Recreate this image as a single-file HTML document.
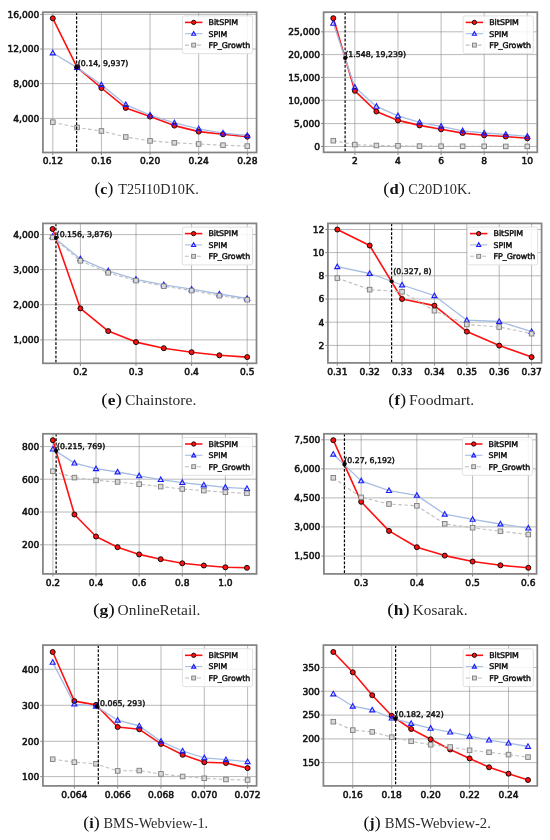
<!DOCTYPE html>
<html><head><meta charset="utf-8"><title>Figure</title>
<style>
html,body{margin:0;padding:0;background:#fff;}
body{width:550px;height:840px;overflow:hidden;}
svg{display:block;}
.tk{font-family:"DejaVu Sans","Liberation Sans",sans-serif;font-size:9.1px;fill:#111;stroke:#111;stroke-width:0.55px;}
.lg{font-family:"DejaVu Sans","Liberation Sans",sans-serif;font-size:7.9px;fill:#111;stroke:#111;stroke-width:0.45px;}
.ann{font-family:"DejaVu Sans","Liberation Sans",sans-serif;font-size:7.8px;fill:#111;stroke:#111;stroke-width:0.45px;}
.cap{font-family:"Liberation Serif",serif;font-size:14.6px;fill:#2b2b2b;}
.cb{fill:#111;}
.cb{font-weight:bold;}
.pp{font-weight:normal;font-size:17.4px;}
.lt{font-size:15.6px;}
</style></head>
<body>
<svg width="550" height="840" viewBox="0 0 550 840">
<rect width="550" height="840" fill="#fff"/>
<line x1="52.8" y1="12.2" x2="52.8" y2="152.5" stroke="#8a8a8a" stroke-opacity="0.6" stroke-width="1.0"/>
<line x1="101.42" y1="12.2" x2="101.42" y2="152.5" stroke="#8a8a8a" stroke-opacity="0.6" stroke-width="1.0"/>
<line x1="150.05" y1="12.2" x2="150.05" y2="152.5" stroke="#8a8a8a" stroke-opacity="0.6" stroke-width="1.0"/>
<line x1="198.67" y1="12.2" x2="198.67" y2="152.5" stroke="#8a8a8a" stroke-opacity="0.6" stroke-width="1.0"/>
<line x1="247.3" y1="12.2" x2="247.3" y2="152.5" stroke="#8a8a8a" stroke-opacity="0.6" stroke-width="1.0"/>
<line x1="42.9" y1="14.4" x2="256.6" y2="14.4" stroke="#8a8a8a" stroke-opacity="0.6" stroke-width="1.0"/>
<line x1="42.9" y1="49" x2="256.6" y2="49" stroke="#8a8a8a" stroke-opacity="0.6" stroke-width="1.0"/>
<line x1="42.9" y1="83.6" x2="256.6" y2="83.6" stroke="#8a8a8a" stroke-opacity="0.6" stroke-width="1.0"/>
<line x1="42.9" y1="118.4" x2="256.6" y2="118.4" stroke="#8a8a8a" stroke-opacity="0.6" stroke-width="1.0"/>
<polyline points="52.8,18.3 77.11,67.3 101.42,88 125.74,107.9 150.05,116.6 174.36,125.6 198.67,131.6 222.99,134.3 247.3,136.7" fill="none" stroke="#ff1010" stroke-width="1.6" stroke-linejoin="round"/>
<polyline points="52.8,53 77.11,67.6 101.42,84.7 125.74,104.6 150.05,115.1 174.36,122.9 198.67,128.9 222.99,133.1 247.3,135.5" fill="none" stroke="#a6bde2" stroke-width="1.3" stroke-linejoin="round"/>
<polyline points="52.8,122.2 77.11,127.5 101.42,131 125.74,137 150.05,140.9 174.36,142.8 198.67,144 222.99,145.2 247.3,146.1" fill="none" stroke="#bfbfbf" stroke-width="1.1" stroke-dasharray="3.6 2.4"/>
<circle cx="52.8" cy="18.3" r="2.5" fill="#ff1010" stroke="#000" stroke-width="0.9"/>
<circle cx="77.11" cy="67.3" r="2.5" fill="#ff1010" stroke="#000" stroke-width="0.9"/>
<circle cx="101.42" cy="88" r="2.5" fill="#ff1010" stroke="#000" stroke-width="0.9"/>
<circle cx="125.74" cy="107.9" r="2.5" fill="#ff1010" stroke="#000" stroke-width="0.9"/>
<circle cx="150.05" cy="116.6" r="2.5" fill="#ff1010" stroke="#000" stroke-width="0.9"/>
<circle cx="174.36" cy="125.6" r="2.5" fill="#ff1010" stroke="#000" stroke-width="0.9"/>
<circle cx="198.67" cy="131.6" r="2.5" fill="#ff1010" stroke="#000" stroke-width="0.9"/>
<circle cx="222.99" cy="134.3" r="2.5" fill="#ff1010" stroke="#000" stroke-width="0.9"/>
<circle cx="247.3" cy="136.7" r="2.5" fill="#ff1010" stroke="#000" stroke-width="0.9"/>
<polygon points="52.8,50.32 50.25,54.91 55.35,54.91" fill="none" stroke="#1a1aff" stroke-width="1.1" stroke-linejoin="miter"/>
<polygon points="77.11,64.92 74.56,69.51 79.66,69.51" fill="none" stroke="#1a1aff" stroke-width="1.1" stroke-linejoin="miter"/>
<polygon points="101.42,82.02 98.88,86.61 103.97,86.61" fill="none" stroke="#1a1aff" stroke-width="1.1" stroke-linejoin="miter"/>
<polygon points="125.74,101.92 123.19,106.51 128.29,106.51" fill="none" stroke="#1a1aff" stroke-width="1.1" stroke-linejoin="miter"/>
<polygon points="150.05,112.42 147.5,117.01 152.6,117.01" fill="none" stroke="#1a1aff" stroke-width="1.1" stroke-linejoin="miter"/>
<polygon points="174.36,120.22 171.81,124.81 176.91,124.81" fill="none" stroke="#1a1aff" stroke-width="1.1" stroke-linejoin="miter"/>
<polygon points="198.67,126.22 196.12,130.81 201.22,130.81" fill="none" stroke="#1a1aff" stroke-width="1.1" stroke-linejoin="miter"/>
<polygon points="222.99,130.42 220.44,135.01 225.54,135.01" fill="none" stroke="#1a1aff" stroke-width="1.1" stroke-linejoin="miter"/>
<polygon points="247.3,132.82 244.75,137.41 249.85,137.41" fill="none" stroke="#1a1aff" stroke-width="1.1" stroke-linejoin="miter"/>
<rect x="50.5" y="119.9" width="4.6" height="4.6" fill="#d9d9d9" stroke="#7c7c7c" stroke-width="0.9"/>
<rect x="74.81" y="125.2" width="4.6" height="4.6" fill="#d9d9d9" stroke="#7c7c7c" stroke-width="0.9"/>
<rect x="99.12" y="128.7" width="4.6" height="4.6" fill="#d9d9d9" stroke="#7c7c7c" stroke-width="0.9"/>
<rect x="123.44" y="134.7" width="4.6" height="4.6" fill="#d9d9d9" stroke="#7c7c7c" stroke-width="0.9"/>
<rect x="147.75" y="138.6" width="4.6" height="4.6" fill="#d9d9d9" stroke="#7c7c7c" stroke-width="0.9"/>
<rect x="172.06" y="140.5" width="4.6" height="4.6" fill="#d9d9d9" stroke="#7c7c7c" stroke-width="0.9"/>
<rect x="196.37" y="141.7" width="4.6" height="4.6" fill="#d9d9d9" stroke="#7c7c7c" stroke-width="0.9"/>
<rect x="220.69" y="142.9" width="4.6" height="4.6" fill="#d9d9d9" stroke="#7c7c7c" stroke-width="0.9"/>
<rect x="245" y="143.8" width="4.6" height="4.6" fill="#d9d9d9" stroke="#7c7c7c" stroke-width="0.9"/>
<line x1="76.6" y1="12.2" x2="76.6" y2="152.5" stroke="#000" stroke-width="1.2" stroke-dasharray="2.8 1.6"/>
<circle cx="76.6" cy="67.3" r="2.05" fill="#000"/>
<text x="77.7" y="65.5" class="ann">(0.14, 9,937)</text>
<rect x="42.9" y="12.2" width="213.7" height="140.3" fill="none" stroke="#848484" stroke-width="1.75"/>
<line x1="52.8" y1="152.5" x2="52.8" y2="155.1" stroke="#848484" stroke-width="1"/>
<text x="52.8" y="164.43" class="tk" text-anchor="middle">0.12</text>
<line x1="101.42" y1="152.5" x2="101.42" y2="155.1" stroke="#848484" stroke-width="1"/>
<text x="101.42" y="164.43" class="tk" text-anchor="middle">0.16</text>
<line x1="150.05" y1="152.5" x2="150.05" y2="155.1" stroke="#848484" stroke-width="1"/>
<text x="150.05" y="164.43" class="tk" text-anchor="middle">0.20</text>
<line x1="198.67" y1="152.5" x2="198.67" y2="155.1" stroke="#848484" stroke-width="1"/>
<text x="198.67" y="164.43" class="tk" text-anchor="middle">0.24</text>
<line x1="247.3" y1="152.5" x2="247.3" y2="155.1" stroke="#848484" stroke-width="1"/>
<text x="247.3" y="164.43" class="tk" text-anchor="middle">0.28</text>
<line x1="40.3" y1="14.4" x2="42.9" y2="14.4" stroke="#848484" stroke-width="1"/>
<text x="39.3" y="17.72" class="tk" text-anchor="end">16,000</text>
<line x1="40.3" y1="49" x2="42.9" y2="49" stroke="#848484" stroke-width="1"/>
<text x="39.3" y="52.32" class="tk" text-anchor="end">12,000</text>
<line x1="40.3" y1="83.6" x2="42.9" y2="83.6" stroke="#848484" stroke-width="1"/>
<text x="39.3" y="86.92" class="tk" text-anchor="end">8,000</text>
<line x1="40.3" y1="118.4" x2="42.9" y2="118.4" stroke="#848484" stroke-width="1"/>
<text x="39.3" y="121.72" class="tk" text-anchor="end">4,000</text>
<rect x="182.4" y="15.9" width="70.2" height="37.8" rx="2" fill="#fff" fill-opacity="0.85" stroke="#dcdcdc" stroke-width="0.9"/>
<line x1="185" y1="22.4" x2="202.4" y2="22.4" stroke="#ff1010" stroke-width="1.6"/>
<circle cx="193.7" cy="22.4" r="2.15" fill="#ff1010" stroke="#000" stroke-width="0.9"/>
<line x1="185" y1="33.7" x2="202.4" y2="33.7" stroke="#a6bde2" stroke-width="1.1"/>
<polygon points="193.7,31.55 191.65,35.24 195.75,35.24" fill="none" stroke="#1a1aff" stroke-width="1.1" stroke-linejoin="miter"/>
<line x1="185" y1="45.1" x2="202.4" y2="45.1" stroke="#bfbfbf" stroke-width="1.1" stroke-dasharray="4 2"/>
<rect x="191.75" y="43.15" width="3.9" height="3.9" fill="#d9d9d9" stroke="#7c7c7c" stroke-width="0.9"/>
<text x="208.5" y="25.28" class="lg">BitSPIM</text>
<text x="208.5" y="36.58" class="lg">SPIM</text>
<text x="208.5" y="47.98" class="lg">FP_Growth</text>
<text x="94.5" y="193.6" class="cap cb" textLength="18.8" lengthAdjust="spacingAndGlyphs"><tspan class="pp">(</tspan><tspan class="lt">c</tspan><tspan class="pp">)</tspan></text><text x="118.2" y="193.6" class="cap" textLength="80.6" lengthAdjust="spacingAndGlyphs">T25I10D10K.</text>
<line x1="354.86" y1="12.2" x2="354.86" y2="152.3" stroke="#8a8a8a" stroke-opacity="0.6" stroke-width="1.0"/>
<line x1="397.97" y1="12.2" x2="397.97" y2="152.3" stroke="#8a8a8a" stroke-opacity="0.6" stroke-width="1.0"/>
<line x1="441.08" y1="12.2" x2="441.08" y2="152.3" stroke="#8a8a8a" stroke-opacity="0.6" stroke-width="1.0"/>
<line x1="484.19" y1="12.2" x2="484.19" y2="152.3" stroke="#8a8a8a" stroke-opacity="0.6" stroke-width="1.0"/>
<line x1="527.3" y1="12.2" x2="527.3" y2="152.3" stroke="#8a8a8a" stroke-opacity="0.6" stroke-width="1.0"/>
<line x1="323.6" y1="31.8" x2="537.3" y2="31.8" stroke="#8a8a8a" stroke-opacity="0.6" stroke-width="1.0"/>
<line x1="323.6" y1="54.6" x2="537.3" y2="54.6" stroke="#8a8a8a" stroke-opacity="0.6" stroke-width="1.0"/>
<line x1="323.6" y1="77.4" x2="537.3" y2="77.4" stroke="#8a8a8a" stroke-opacity="0.6" stroke-width="1.0"/>
<line x1="323.6" y1="100.3" x2="537.3" y2="100.3" stroke="#8a8a8a" stroke-opacity="0.6" stroke-width="1.0"/>
<line x1="323.6" y1="123.6" x2="537.3" y2="123.6" stroke="#8a8a8a" stroke-opacity="0.6" stroke-width="1.0"/>
<line x1="323.6" y1="146.5" x2="537.3" y2="146.5" stroke="#8a8a8a" stroke-opacity="0.6" stroke-width="1.0"/>
<polyline points="333.3,18.2 354.86,90.8 376.41,111.5 397.97,120.4 419.52,125.4 441.08,129.3 462.63,133.1 484.19,135.3 505.74,136.5 527.3,138.3" fill="none" stroke="#ff1010" stroke-width="1.6" stroke-linejoin="round"/>
<polyline points="333.3,23.3 354.86,87.3 376.41,106.4 397.97,115.8 419.52,122.4 441.08,126.4 462.63,130.8 484.19,133 505.74,134.4 527.3,136.4" fill="none" stroke="#a6bde2" stroke-width="1.3" stroke-linejoin="round"/>
<polyline points="333.3,140.7 354.86,144.6 376.41,145.5 397.97,145.8 419.52,146.1 441.08,146.2 462.63,146.3 484.19,146.3 505.74,146.4 527.3,146.4" fill="none" stroke="#bfbfbf" stroke-width="1.1" stroke-dasharray="3.6 2.4"/>
<circle cx="333.3" cy="18.2" r="2.5" fill="#ff1010" stroke="#000" stroke-width="0.9"/>
<circle cx="354.86" cy="90.8" r="2.5" fill="#ff1010" stroke="#000" stroke-width="0.9"/>
<circle cx="376.41" cy="111.5" r="2.5" fill="#ff1010" stroke="#000" stroke-width="0.9"/>
<circle cx="397.97" cy="120.4" r="2.5" fill="#ff1010" stroke="#000" stroke-width="0.9"/>
<circle cx="419.52" cy="125.4" r="2.5" fill="#ff1010" stroke="#000" stroke-width="0.9"/>
<circle cx="441.08" cy="129.3" r="2.5" fill="#ff1010" stroke="#000" stroke-width="0.9"/>
<circle cx="462.63" cy="133.1" r="2.5" fill="#ff1010" stroke="#000" stroke-width="0.9"/>
<circle cx="484.19" cy="135.3" r="2.5" fill="#ff1010" stroke="#000" stroke-width="0.9"/>
<circle cx="505.74" cy="136.5" r="2.5" fill="#ff1010" stroke="#000" stroke-width="0.9"/>
<circle cx="527.3" cy="138.3" r="2.5" fill="#ff1010" stroke="#000" stroke-width="0.9"/>
<polygon points="333.3,20.62 330.75,25.21 335.85,25.21" fill="none" stroke="#1a1aff" stroke-width="1.1" stroke-linejoin="miter"/>
<polygon points="354.86,84.62 352.31,89.21 357.41,89.21" fill="none" stroke="#1a1aff" stroke-width="1.1" stroke-linejoin="miter"/>
<polygon points="376.41,103.72 373.86,108.31 378.96,108.31" fill="none" stroke="#1a1aff" stroke-width="1.1" stroke-linejoin="miter"/>
<polygon points="397.97,113.12 395.42,117.71 400.52,117.71" fill="none" stroke="#1a1aff" stroke-width="1.1" stroke-linejoin="miter"/>
<polygon points="419.52,119.72 416.97,124.31 422.07,124.31" fill="none" stroke="#1a1aff" stroke-width="1.1" stroke-linejoin="miter"/>
<polygon points="441.08,123.72 438.53,128.31 443.63,128.31" fill="none" stroke="#1a1aff" stroke-width="1.1" stroke-linejoin="miter"/>
<polygon points="462.63,128.12 460.08,132.71 465.18,132.71" fill="none" stroke="#1a1aff" stroke-width="1.1" stroke-linejoin="miter"/>
<polygon points="484.19,130.32 481.64,134.91 486.74,134.91" fill="none" stroke="#1a1aff" stroke-width="1.1" stroke-linejoin="miter"/>
<polygon points="505.74,131.72 503.19,136.31 508.29,136.31" fill="none" stroke="#1a1aff" stroke-width="1.1" stroke-linejoin="miter"/>
<polygon points="527.3,133.72 524.75,138.31 529.85,138.31" fill="none" stroke="#1a1aff" stroke-width="1.1" stroke-linejoin="miter"/>
<rect x="331" y="138.4" width="4.6" height="4.6" fill="#d9d9d9" stroke="#7c7c7c" stroke-width="0.9"/>
<rect x="352.56" y="142.3" width="4.6" height="4.6" fill="#d9d9d9" stroke="#7c7c7c" stroke-width="0.9"/>
<rect x="374.11" y="143.2" width="4.6" height="4.6" fill="#d9d9d9" stroke="#7c7c7c" stroke-width="0.9"/>
<rect x="395.67" y="143.5" width="4.6" height="4.6" fill="#d9d9d9" stroke="#7c7c7c" stroke-width="0.9"/>
<rect x="417.22" y="143.8" width="4.6" height="4.6" fill="#d9d9d9" stroke="#7c7c7c" stroke-width="0.9"/>
<rect x="438.78" y="143.9" width="4.6" height="4.6" fill="#d9d9d9" stroke="#7c7c7c" stroke-width="0.9"/>
<rect x="460.33" y="144" width="4.6" height="4.6" fill="#d9d9d9" stroke="#7c7c7c" stroke-width="0.9"/>
<rect x="481.89" y="144" width="4.6" height="4.6" fill="#d9d9d9" stroke="#7c7c7c" stroke-width="0.9"/>
<rect x="503.44" y="144.1" width="4.6" height="4.6" fill="#d9d9d9" stroke="#7c7c7c" stroke-width="0.9"/>
<rect x="525" y="144.1" width="4.6" height="4.6" fill="#d9d9d9" stroke="#7c7c7c" stroke-width="0.9"/>
<line x1="345.11" y1="12.2" x2="345.11" y2="152.3" stroke="#000" stroke-width="1.2" stroke-dasharray="2.8 1.6"/>
<circle cx="345.11" cy="58" r="2.05" fill="#000"/>
<text x="345.3" y="56.9" class="ann">(1.548, 19,239)</text>
<rect x="323.6" y="12.2" width="213.7" height="140.1" fill="none" stroke="#848484" stroke-width="1.75"/>
<line x1="354.86" y1="152.3" x2="354.86" y2="154.9" stroke="#848484" stroke-width="1"/>
<text x="354.86" y="164.23" class="tk" text-anchor="middle">2</text>
<line x1="397.97" y1="152.3" x2="397.97" y2="154.9" stroke="#848484" stroke-width="1"/>
<text x="397.97" y="164.23" class="tk" text-anchor="middle">4</text>
<line x1="441.08" y1="152.3" x2="441.08" y2="154.9" stroke="#848484" stroke-width="1"/>
<text x="441.08" y="164.23" class="tk" text-anchor="middle">6</text>
<line x1="484.19" y1="152.3" x2="484.19" y2="154.9" stroke="#848484" stroke-width="1"/>
<text x="484.19" y="164.23" class="tk" text-anchor="middle">8</text>
<line x1="527.3" y1="152.3" x2="527.3" y2="154.9" stroke="#848484" stroke-width="1"/>
<text x="527.3" y="164.23" class="tk" text-anchor="middle">10</text>
<line x1="321" y1="31.8" x2="323.6" y2="31.8" stroke="#848484" stroke-width="1"/>
<text x="320" y="35.12" class="tk" text-anchor="end">25,000</text>
<line x1="321" y1="54.6" x2="323.6" y2="54.6" stroke="#848484" stroke-width="1"/>
<text x="320" y="57.92" class="tk" text-anchor="end">20,000</text>
<line x1="321" y1="77.4" x2="323.6" y2="77.4" stroke="#848484" stroke-width="1"/>
<text x="320" y="80.72" class="tk" text-anchor="end">15,000</text>
<line x1="321" y1="100.3" x2="323.6" y2="100.3" stroke="#848484" stroke-width="1"/>
<text x="320" y="103.62" class="tk" text-anchor="end">10,000</text>
<line x1="321" y1="123.6" x2="323.6" y2="123.6" stroke="#848484" stroke-width="1"/>
<text x="320" y="126.92" class="tk" text-anchor="end">5,000</text>
<line x1="321" y1="146.5" x2="323.6" y2="146.5" stroke="#848484" stroke-width="1"/>
<text x="320" y="149.82" class="tk" text-anchor="end">0</text>
<rect x="463.1" y="15.9" width="70.2" height="37.8" rx="2" fill="#fff" fill-opacity="0.85" stroke="#dcdcdc" stroke-width="0.9"/>
<line x1="465.7" y1="22.4" x2="483.1" y2="22.4" stroke="#ff1010" stroke-width="1.6"/>
<circle cx="474.4" cy="22.4" r="2.15" fill="#ff1010" stroke="#000" stroke-width="0.9"/>
<line x1="465.7" y1="33.7" x2="483.1" y2="33.7" stroke="#a6bde2" stroke-width="1.1"/>
<polygon points="474.4,31.55 472.35,35.24 476.45,35.24" fill="none" stroke="#1a1aff" stroke-width="1.1" stroke-linejoin="miter"/>
<line x1="465.7" y1="45.1" x2="483.1" y2="45.1" stroke="#bfbfbf" stroke-width="1.1" stroke-dasharray="4 2"/>
<rect x="472.45" y="43.15" width="3.9" height="3.9" fill="#d9d9d9" stroke="#7c7c7c" stroke-width="0.9"/>
<text x="489.2" y="25.28" class="lg">BitSPIM</text>
<text x="489.2" y="36.58" class="lg">SPIM</text>
<text x="489.2" y="47.98" class="lg">FP_Growth</text>
<text x="383.3" y="193.6" class="cap cb" textLength="21.5" lengthAdjust="spacingAndGlyphs"><tspan class="pp">(</tspan><tspan class="lt">d</tspan><tspan class="pp">)</tspan></text><text x="408.3" y="193.6" class="cap" textLength="62.7" lengthAdjust="spacingAndGlyphs">C20D10K.</text>
<line x1="80.4" y1="223.4" x2="80.4" y2="363.3" stroke="#8a8a8a" stroke-opacity="0.6" stroke-width="1.0"/>
<line x1="136" y1="223.4" x2="136" y2="363.3" stroke="#8a8a8a" stroke-opacity="0.6" stroke-width="1.0"/>
<line x1="191.6" y1="223.4" x2="191.6" y2="363.3" stroke="#8a8a8a" stroke-opacity="0.6" stroke-width="1.0"/>
<line x1="247.2" y1="223.4" x2="247.2" y2="363.3" stroke="#8a8a8a" stroke-opacity="0.6" stroke-width="1.0"/>
<line x1="42.9" y1="234.6" x2="256.5" y2="234.6" stroke="#8a8a8a" stroke-opacity="0.6" stroke-width="1.0"/>
<line x1="42.9" y1="269.6" x2="256.5" y2="269.6" stroke="#8a8a8a" stroke-opacity="0.6" stroke-width="1.0"/>
<line x1="42.9" y1="304.7" x2="256.5" y2="304.7" stroke="#8a8a8a" stroke-opacity="0.6" stroke-width="1.0"/>
<line x1="42.9" y1="339.9" x2="256.5" y2="339.9" stroke="#8a8a8a" stroke-opacity="0.6" stroke-width="1.0"/>
<polyline points="52.6,229 80.4,308.4 108.2,331.1 136,342.1 163.8,348.2 191.6,352.2 219.4,355.3 247.2,357.1" fill="none" stroke="#ff1010" stroke-width="1.6" stroke-linejoin="round"/>
<polyline points="52.6,236.5 80.4,258.9 108.2,270.9 136,279.3 163.8,284.8 191.6,289.2 219.4,294 247.2,298.5" fill="none" stroke="#a6bde2" stroke-width="1.3" stroke-linejoin="round"/>
<polyline points="52.6,237.4 80.4,260.8 108.2,272.8 136,280.6 163.8,286.2 191.6,290.6 219.4,295.7 247.2,299.7" fill="none" stroke="#bfbfbf" stroke-width="1.1" stroke-dasharray="3.6 2.4"/>
<circle cx="52.6" cy="229" r="2.5" fill="#ff1010" stroke="#000" stroke-width="0.9"/>
<circle cx="80.4" cy="308.4" r="2.5" fill="#ff1010" stroke="#000" stroke-width="0.9"/>
<circle cx="108.2" cy="331.1" r="2.5" fill="#ff1010" stroke="#000" stroke-width="0.9"/>
<circle cx="136" cy="342.1" r="2.5" fill="#ff1010" stroke="#000" stroke-width="0.9"/>
<circle cx="163.8" cy="348.2" r="2.5" fill="#ff1010" stroke="#000" stroke-width="0.9"/>
<circle cx="191.6" cy="352.2" r="2.5" fill="#ff1010" stroke="#000" stroke-width="0.9"/>
<circle cx="219.4" cy="355.3" r="2.5" fill="#ff1010" stroke="#000" stroke-width="0.9"/>
<circle cx="247.2" cy="357.1" r="2.5" fill="#ff1010" stroke="#000" stroke-width="0.9"/>
<polygon points="52.6,233.82 50.05,238.41 55.15,238.41" fill="none" stroke="#1a1aff" stroke-width="1.1" stroke-linejoin="miter"/>
<polygon points="80.4,256.22 77.85,260.81 82.95,260.81" fill="none" stroke="#1a1aff" stroke-width="1.1" stroke-linejoin="miter"/>
<polygon points="108.2,268.22 105.65,272.81 110.75,272.81" fill="none" stroke="#1a1aff" stroke-width="1.1" stroke-linejoin="miter"/>
<polygon points="136,276.62 133.45,281.21 138.55,281.21" fill="none" stroke="#1a1aff" stroke-width="1.1" stroke-linejoin="miter"/>
<polygon points="163.8,282.12 161.25,286.71 166.35,286.71" fill="none" stroke="#1a1aff" stroke-width="1.1" stroke-linejoin="miter"/>
<polygon points="191.6,286.52 189.05,291.11 194.15,291.11" fill="none" stroke="#1a1aff" stroke-width="1.1" stroke-linejoin="miter"/>
<polygon points="219.4,291.32 216.85,295.91 221.95,295.91" fill="none" stroke="#1a1aff" stroke-width="1.1" stroke-linejoin="miter"/>
<polygon points="247.2,295.82 244.65,300.41 249.75,300.41" fill="none" stroke="#1a1aff" stroke-width="1.1" stroke-linejoin="miter"/>
<rect x="50.3" y="235.1" width="4.6" height="4.6" fill="#d9d9d9" stroke="#7c7c7c" stroke-width="0.9"/>
<rect x="78.1" y="258.5" width="4.6" height="4.6" fill="#d9d9d9" stroke="#7c7c7c" stroke-width="0.9"/>
<rect x="105.9" y="270.5" width="4.6" height="4.6" fill="#d9d9d9" stroke="#7c7c7c" stroke-width="0.9"/>
<rect x="133.7" y="278.3" width="4.6" height="4.6" fill="#d9d9d9" stroke="#7c7c7c" stroke-width="0.9"/>
<rect x="161.5" y="283.9" width="4.6" height="4.6" fill="#d9d9d9" stroke="#7c7c7c" stroke-width="0.9"/>
<rect x="189.3" y="288.3" width="4.6" height="4.6" fill="#d9d9d9" stroke="#7c7c7c" stroke-width="0.9"/>
<rect x="217.1" y="293.4" width="4.6" height="4.6" fill="#d9d9d9" stroke="#7c7c7c" stroke-width="0.9"/>
<rect x="244.9" y="297.4" width="4.6" height="4.6" fill="#d9d9d9" stroke="#7c7c7c" stroke-width="0.9"/>
<line x1="55.94" y1="223.4" x2="55.94" y2="363.3" stroke="#000" stroke-width="1.2" stroke-dasharray="2.8 1.6"/>
<circle cx="55.94" cy="237.9" r="2.05" fill="#000"/>
<text x="56.6" y="237" class="ann">(0.156, 3,876)</text>
<rect x="42.9" y="223.4" width="213.6" height="139.9" fill="none" stroke="#848484" stroke-width="1.75"/>
<line x1="80.4" y1="363.3" x2="80.4" y2="365.9" stroke="#848484" stroke-width="1"/>
<text x="80.4" y="375.23" class="tk" text-anchor="middle">0.2</text>
<line x1="136" y1="363.3" x2="136" y2="365.9" stroke="#848484" stroke-width="1"/>
<text x="136" y="375.23" class="tk" text-anchor="middle">0.3</text>
<line x1="191.6" y1="363.3" x2="191.6" y2="365.9" stroke="#848484" stroke-width="1"/>
<text x="191.6" y="375.23" class="tk" text-anchor="middle">0.4</text>
<line x1="247.2" y1="363.3" x2="247.2" y2="365.9" stroke="#848484" stroke-width="1"/>
<text x="247.2" y="375.23" class="tk" text-anchor="middle">0.5</text>
<line x1="40.3" y1="234.6" x2="42.9" y2="234.6" stroke="#848484" stroke-width="1"/>
<text x="39.3" y="237.92" class="tk" text-anchor="end">4,000</text>
<line x1="40.3" y1="269.6" x2="42.9" y2="269.6" stroke="#848484" stroke-width="1"/>
<text x="39.3" y="272.92" class="tk" text-anchor="end">3,000</text>
<line x1="40.3" y1="304.7" x2="42.9" y2="304.7" stroke="#848484" stroke-width="1"/>
<text x="39.3" y="308.02" class="tk" text-anchor="end">2,000</text>
<line x1="40.3" y1="339.9" x2="42.9" y2="339.9" stroke="#848484" stroke-width="1"/>
<text x="39.3" y="343.22" class="tk" text-anchor="end">1,000</text>
<rect x="182.3" y="227.1" width="70.2" height="37.8" rx="2" fill="#fff" fill-opacity="0.85" stroke="#dcdcdc" stroke-width="0.9"/>
<line x1="184.9" y1="233.6" x2="202.3" y2="233.6" stroke="#ff1010" stroke-width="1.6"/>
<circle cx="193.6" cy="233.6" r="2.15" fill="#ff1010" stroke="#000" stroke-width="0.9"/>
<line x1="184.9" y1="244.9" x2="202.3" y2="244.9" stroke="#a6bde2" stroke-width="1.1"/>
<polygon points="193.6,242.75 191.55,246.44 195.65,246.44" fill="none" stroke="#1a1aff" stroke-width="1.1" stroke-linejoin="miter"/>
<line x1="184.9" y1="256.3" x2="202.3" y2="256.3" stroke="#bfbfbf" stroke-width="1.1" stroke-dasharray="4 2"/>
<rect x="191.65" y="254.35" width="3.9" height="3.9" fill="#d9d9d9" stroke="#7c7c7c" stroke-width="0.9"/>
<text x="208.4" y="236.48" class="lg">BitSPIM</text>
<text x="208.4" y="247.78" class="lg">SPIM</text>
<text x="208.4" y="259.18" class="lg">FP_Growth</text>
<text x="101.3" y="404.8" class="cap cb" textLength="20.6" lengthAdjust="spacingAndGlyphs"><tspan class="pp">(</tspan><tspan class="lt">e</tspan><tspan class="pp">)</tspan></text><text x="125.1" y="404.8" class="cap" textLength="71.2" lengthAdjust="spacingAndGlyphs">Chainstore.</text>
<line x1="337.3" y1="223.4" x2="337.3" y2="362.9" stroke="#8a8a8a" stroke-opacity="0.6" stroke-width="1.0"/>
<line x1="369.68" y1="223.4" x2="369.68" y2="362.9" stroke="#8a8a8a" stroke-opacity="0.6" stroke-width="1.0"/>
<line x1="402.07" y1="223.4" x2="402.07" y2="362.9" stroke="#8a8a8a" stroke-opacity="0.6" stroke-width="1.0"/>
<line x1="434.45" y1="223.4" x2="434.45" y2="362.9" stroke="#8a8a8a" stroke-opacity="0.6" stroke-width="1.0"/>
<line x1="466.83" y1="223.4" x2="466.83" y2="362.9" stroke="#8a8a8a" stroke-opacity="0.6" stroke-width="1.0"/>
<line x1="499.22" y1="223.4" x2="499.22" y2="362.9" stroke="#8a8a8a" stroke-opacity="0.6" stroke-width="1.0"/>
<line x1="531.6" y1="223.4" x2="531.6" y2="362.9" stroke="#8a8a8a" stroke-opacity="0.6" stroke-width="1.0"/>
<line x1="327.9" y1="229.5" x2="541.6" y2="229.5" stroke="#8a8a8a" stroke-opacity="0.6" stroke-width="1.0"/>
<line x1="327.9" y1="252.6" x2="541.6" y2="252.6" stroke="#8a8a8a" stroke-opacity="0.6" stroke-width="1.0"/>
<line x1="327.9" y1="275.8" x2="541.6" y2="275.8" stroke="#8a8a8a" stroke-opacity="0.6" stroke-width="1.0"/>
<line x1="327.9" y1="299" x2="541.6" y2="299" stroke="#8a8a8a" stroke-opacity="0.6" stroke-width="1.0"/>
<line x1="327.9" y1="322.2" x2="541.6" y2="322.2" stroke="#8a8a8a" stroke-opacity="0.6" stroke-width="1.0"/>
<line x1="327.9" y1="345.4" x2="541.6" y2="345.4" stroke="#8a8a8a" stroke-opacity="0.6" stroke-width="1.0"/>
<polyline points="337.3,229.5 369.68,245.5 402.07,299 434.45,305.6 466.83,331.6 499.22,345.6 531.6,357.1" fill="none" stroke="#ff1010" stroke-width="1.6" stroke-linejoin="round"/>
<polyline points="337.3,266.7 369.68,273.5 402.07,285 434.45,295.7 466.83,320.2 499.22,321.5 531.6,331.6" fill="none" stroke="#a6bde2" stroke-width="1.3" stroke-linejoin="round"/>
<polyline points="337.3,278.1 369.68,289.6 402.07,291.8 434.45,310.7 466.83,324.5 499.22,327 531.6,333.7" fill="none" stroke="#bfbfbf" stroke-width="1.1" stroke-dasharray="3.6 2.4"/>
<circle cx="337.3" cy="229.5" r="2.5" fill="#ff1010" stroke="#000" stroke-width="0.9"/>
<circle cx="369.68" cy="245.5" r="2.5" fill="#ff1010" stroke="#000" stroke-width="0.9"/>
<circle cx="402.07" cy="299" r="2.5" fill="#ff1010" stroke="#000" stroke-width="0.9"/>
<circle cx="434.45" cy="305.6" r="2.5" fill="#ff1010" stroke="#000" stroke-width="0.9"/>
<circle cx="466.83" cy="331.6" r="2.5" fill="#ff1010" stroke="#000" stroke-width="0.9"/>
<circle cx="499.22" cy="345.6" r="2.5" fill="#ff1010" stroke="#000" stroke-width="0.9"/>
<circle cx="531.6" cy="357.1" r="2.5" fill="#ff1010" stroke="#000" stroke-width="0.9"/>
<polygon points="337.3,264.02 334.75,268.61 339.85,268.61" fill="none" stroke="#1a1aff" stroke-width="1.1" stroke-linejoin="miter"/>
<polygon points="369.68,270.82 367.13,275.41 372.23,275.41" fill="none" stroke="#1a1aff" stroke-width="1.1" stroke-linejoin="miter"/>
<polygon points="402.07,282.32 399.52,286.91 404.62,286.91" fill="none" stroke="#1a1aff" stroke-width="1.1" stroke-linejoin="miter"/>
<polygon points="434.45,293.02 431.9,297.61 437,297.61" fill="none" stroke="#1a1aff" stroke-width="1.1" stroke-linejoin="miter"/>
<polygon points="466.83,317.52 464.28,322.11 469.38,322.11" fill="none" stroke="#1a1aff" stroke-width="1.1" stroke-linejoin="miter"/>
<polygon points="499.22,318.82 496.67,323.41 501.77,323.41" fill="none" stroke="#1a1aff" stroke-width="1.1" stroke-linejoin="miter"/>
<polygon points="531.6,328.92 529.05,333.51 534.15,333.51" fill="none" stroke="#1a1aff" stroke-width="1.1" stroke-linejoin="miter"/>
<rect x="335" y="275.8" width="4.6" height="4.6" fill="#d9d9d9" stroke="#7c7c7c" stroke-width="0.9"/>
<rect x="367.38" y="287.3" width="4.6" height="4.6" fill="#d9d9d9" stroke="#7c7c7c" stroke-width="0.9"/>
<rect x="399.77" y="289.5" width="4.6" height="4.6" fill="#d9d9d9" stroke="#7c7c7c" stroke-width="0.9"/>
<rect x="432.15" y="308.4" width="4.6" height="4.6" fill="#d9d9d9" stroke="#7c7c7c" stroke-width="0.9"/>
<rect x="464.53" y="322.2" width="4.6" height="4.6" fill="#d9d9d9" stroke="#7c7c7c" stroke-width="0.9"/>
<rect x="496.92" y="324.7" width="4.6" height="4.6" fill="#d9d9d9" stroke="#7c7c7c" stroke-width="0.9"/>
<rect x="529.3" y="331.4" width="4.6" height="4.6" fill="#d9d9d9" stroke="#7c7c7c" stroke-width="0.9"/>
<line x1="391.6" y1="223.4" x2="391.6" y2="362.9" stroke="#000" stroke-width="1.2" stroke-dasharray="2.8 1.6"/>
<circle cx="391.6" cy="281.2" r="2.05" fill="#000"/>
<text x="393.3" y="274.4" class="ann">(0.327, 8)</text>
<rect x="327.9" y="223.4" width="213.7" height="139.5" fill="none" stroke="#848484" stroke-width="1.75"/>
<line x1="337.3" y1="362.9" x2="337.3" y2="365.5" stroke="#848484" stroke-width="1"/>
<text x="337.3" y="374.83" class="tk" text-anchor="middle">0.31</text>
<line x1="369.68" y1="362.9" x2="369.68" y2="365.5" stroke="#848484" stroke-width="1"/>
<text x="369.68" y="374.83" class="tk" text-anchor="middle">0.32</text>
<line x1="402.07" y1="362.9" x2="402.07" y2="365.5" stroke="#848484" stroke-width="1"/>
<text x="402.07" y="374.83" class="tk" text-anchor="middle">0.33</text>
<line x1="434.45" y1="362.9" x2="434.45" y2="365.5" stroke="#848484" stroke-width="1"/>
<text x="434.45" y="374.83" class="tk" text-anchor="middle">0.34</text>
<line x1="466.83" y1="362.9" x2="466.83" y2="365.5" stroke="#848484" stroke-width="1"/>
<text x="466.83" y="374.83" class="tk" text-anchor="middle">0.35</text>
<line x1="499.22" y1="362.9" x2="499.22" y2="365.5" stroke="#848484" stroke-width="1"/>
<text x="499.22" y="374.83" class="tk" text-anchor="middle">0.36</text>
<line x1="531.6" y1="362.9" x2="531.6" y2="365.5" stroke="#848484" stroke-width="1"/>
<text x="531.6" y="374.83" class="tk" text-anchor="middle">0.37</text>
<line x1="325.3" y1="229.5" x2="327.9" y2="229.5" stroke="#848484" stroke-width="1"/>
<text x="324.3" y="232.82" class="tk" text-anchor="end">12</text>
<line x1="325.3" y1="252.6" x2="327.9" y2="252.6" stroke="#848484" stroke-width="1"/>
<text x="324.3" y="255.92" class="tk" text-anchor="end">10</text>
<line x1="325.3" y1="275.8" x2="327.9" y2="275.8" stroke="#848484" stroke-width="1"/>
<text x="324.3" y="279.12" class="tk" text-anchor="end">8</text>
<line x1="325.3" y1="299" x2="327.9" y2="299" stroke="#848484" stroke-width="1"/>
<text x="324.3" y="302.32" class="tk" text-anchor="end">6</text>
<line x1="325.3" y1="322.2" x2="327.9" y2="322.2" stroke="#848484" stroke-width="1"/>
<text x="324.3" y="325.52" class="tk" text-anchor="end">4</text>
<line x1="325.3" y1="345.4" x2="327.9" y2="345.4" stroke="#848484" stroke-width="1"/>
<text x="324.3" y="348.72" class="tk" text-anchor="end">2</text>
<rect x="467.4" y="227.1" width="70.2" height="37.8" rx="2" fill="#fff" fill-opacity="0.85" stroke="#dcdcdc" stroke-width="0.9"/>
<line x1="470" y1="233.6" x2="487.4" y2="233.6" stroke="#ff1010" stroke-width="1.6"/>
<circle cx="478.7" cy="233.6" r="2.15" fill="#ff1010" stroke="#000" stroke-width="0.9"/>
<line x1="470" y1="244.9" x2="487.4" y2="244.9" stroke="#a6bde2" stroke-width="1.1"/>
<polygon points="478.7,242.75 476.65,246.44 480.75,246.44" fill="none" stroke="#1a1aff" stroke-width="1.1" stroke-linejoin="miter"/>
<line x1="470" y1="256.3" x2="487.4" y2="256.3" stroke="#bfbfbf" stroke-width="1.1" stroke-dasharray="4 2"/>
<rect x="476.75" y="254.35" width="3.9" height="3.9" fill="#d9d9d9" stroke="#7c7c7c" stroke-width="0.9"/>
<text x="493.5" y="236.48" class="lg">BitSPIM</text>
<text x="493.5" y="247.78" class="lg">SPIM</text>
<text x="493.5" y="259.18" class="lg">FP_Growth</text>
<text x="388.3" y="404.8" class="cap cb" textLength="17.8" lengthAdjust="spacingAndGlyphs"><tspan class="pp">(</tspan><tspan class="lt">f</tspan><tspan class="pp">)</tspan></text><text x="409.1" y="404.8" class="cap" textLength="65.1" lengthAdjust="spacingAndGlyphs">Foodmart.</text>
<line x1="52.9" y1="433.8" x2="52.9" y2="573.9" stroke="#8a8a8a" stroke-opacity="0.6" stroke-width="1.0"/>
<line x1="96.03" y1="433.8" x2="96.03" y2="573.9" stroke="#8a8a8a" stroke-opacity="0.6" stroke-width="1.0"/>
<line x1="139.15" y1="433.8" x2="139.15" y2="573.9" stroke="#8a8a8a" stroke-opacity="0.6" stroke-width="1.0"/>
<line x1="182.28" y1="433.8" x2="182.28" y2="573.9" stroke="#8a8a8a" stroke-opacity="0.6" stroke-width="1.0"/>
<line x1="225.4" y1="433.8" x2="225.4" y2="573.9" stroke="#8a8a8a" stroke-opacity="0.6" stroke-width="1.0"/>
<line x1="42.9" y1="446.6" x2="256.6" y2="446.6" stroke="#8a8a8a" stroke-opacity="0.6" stroke-width="1.0"/>
<line x1="42.9" y1="479.2" x2="256.6" y2="479.2" stroke="#8a8a8a" stroke-opacity="0.6" stroke-width="1.0"/>
<line x1="42.9" y1="512" x2="256.6" y2="512" stroke="#8a8a8a" stroke-opacity="0.6" stroke-width="1.0"/>
<line x1="42.9" y1="544.8" x2="256.6" y2="544.8" stroke="#8a8a8a" stroke-opacity="0.6" stroke-width="1.0"/>
<polyline points="52.9,440.2 74.46,514.5 96.03,536.5 117.59,547.2 139.15,554.4 160.71,559.2 182.28,563.3 203.84,565.5 225.4,567.3 246.96,567.8" fill="none" stroke="#ff1010" stroke-width="1.6" stroke-linejoin="round"/>
<polyline points="52.9,449.1 74.46,463.1 96.03,468.7 117.59,472 139.15,475.8 160.71,479.6 182.28,482.6 203.84,485 225.4,487.3 246.96,488.6" fill="none" stroke="#a6bde2" stroke-width="1.3" stroke-linejoin="round"/>
<polyline points="52.9,471.2 74.46,477.6 96.03,480.4 117.59,481.9 139.15,484.2 160.71,486.6 182.28,489 203.84,490.6 225.4,492.3 246.96,493.3" fill="none" stroke="#bfbfbf" stroke-width="1.1" stroke-dasharray="3.6 2.4"/>
<circle cx="52.9" cy="440.2" r="2.5" fill="#ff1010" stroke="#000" stroke-width="0.9"/>
<circle cx="74.46" cy="514.5" r="2.5" fill="#ff1010" stroke="#000" stroke-width="0.9"/>
<circle cx="96.03" cy="536.5" r="2.5" fill="#ff1010" stroke="#000" stroke-width="0.9"/>
<circle cx="117.59" cy="547.2" r="2.5" fill="#ff1010" stroke="#000" stroke-width="0.9"/>
<circle cx="139.15" cy="554.4" r="2.5" fill="#ff1010" stroke="#000" stroke-width="0.9"/>
<circle cx="160.71" cy="559.2" r="2.5" fill="#ff1010" stroke="#000" stroke-width="0.9"/>
<circle cx="182.28" cy="563.3" r="2.5" fill="#ff1010" stroke="#000" stroke-width="0.9"/>
<circle cx="203.84" cy="565.5" r="2.5" fill="#ff1010" stroke="#000" stroke-width="0.9"/>
<circle cx="225.4" cy="567.3" r="2.5" fill="#ff1010" stroke="#000" stroke-width="0.9"/>
<circle cx="246.96" cy="567.8" r="2.5" fill="#ff1010" stroke="#000" stroke-width="0.9"/>
<polygon points="52.9,446.42 50.35,451.01 55.45,451.01" fill="none" stroke="#1a1aff" stroke-width="1.1" stroke-linejoin="miter"/>
<polygon points="74.46,460.42 71.91,465.01 77.01,465.01" fill="none" stroke="#1a1aff" stroke-width="1.1" stroke-linejoin="miter"/>
<polygon points="96.03,466.02 93.48,470.61 98.58,470.61" fill="none" stroke="#1a1aff" stroke-width="1.1" stroke-linejoin="miter"/>
<polygon points="117.59,469.32 115.04,473.91 120.14,473.91" fill="none" stroke="#1a1aff" stroke-width="1.1" stroke-linejoin="miter"/>
<polygon points="139.15,473.12 136.6,477.71 141.7,477.71" fill="none" stroke="#1a1aff" stroke-width="1.1" stroke-linejoin="miter"/>
<polygon points="160.71,476.92 158.16,481.51 163.26,481.51" fill="none" stroke="#1a1aff" stroke-width="1.1" stroke-linejoin="miter"/>
<polygon points="182.28,479.92 179.72,484.51 184.83,484.51" fill="none" stroke="#1a1aff" stroke-width="1.1" stroke-linejoin="miter"/>
<polygon points="203.84,482.32 201.29,486.91 206.39,486.91" fill="none" stroke="#1a1aff" stroke-width="1.1" stroke-linejoin="miter"/>
<polygon points="225.4,484.62 222.85,489.21 227.95,489.21" fill="none" stroke="#1a1aff" stroke-width="1.1" stroke-linejoin="miter"/>
<polygon points="246.96,485.92 244.41,490.51 249.51,490.51" fill="none" stroke="#1a1aff" stroke-width="1.1" stroke-linejoin="miter"/>
<rect x="50.6" y="468.9" width="4.6" height="4.6" fill="#d9d9d9" stroke="#7c7c7c" stroke-width="0.9"/>
<rect x="72.16" y="475.3" width="4.6" height="4.6" fill="#d9d9d9" stroke="#7c7c7c" stroke-width="0.9"/>
<rect x="93.73" y="478.1" width="4.6" height="4.6" fill="#d9d9d9" stroke="#7c7c7c" stroke-width="0.9"/>
<rect x="115.29" y="479.6" width="4.6" height="4.6" fill="#d9d9d9" stroke="#7c7c7c" stroke-width="0.9"/>
<rect x="136.85" y="481.9" width="4.6" height="4.6" fill="#d9d9d9" stroke="#7c7c7c" stroke-width="0.9"/>
<rect x="158.41" y="484.3" width="4.6" height="4.6" fill="#d9d9d9" stroke="#7c7c7c" stroke-width="0.9"/>
<rect x="179.97" y="486.7" width="4.6" height="4.6" fill="#d9d9d9" stroke="#7c7c7c" stroke-width="0.9"/>
<rect x="201.54" y="488.3" width="4.6" height="4.6" fill="#d9d9d9" stroke="#7c7c7c" stroke-width="0.9"/>
<rect x="223.1" y="490" width="4.6" height="4.6" fill="#d9d9d9" stroke="#7c7c7c" stroke-width="0.9"/>
<rect x="244.66" y="491" width="4.6" height="4.6" fill="#d9d9d9" stroke="#7c7c7c" stroke-width="0.9"/>
<line x1="56.13" y1="433.8" x2="56.13" y2="573.9" stroke="#000" stroke-width="1.2" stroke-dasharray="2.8 1.6"/>
<circle cx="56.13" cy="450.9" r="2.05" fill="#000"/>
<text x="57" y="449.2" class="ann">(0.215, 769)</text>
<rect x="42.9" y="433.8" width="213.7" height="140.1" fill="none" stroke="#848484" stroke-width="1.75"/>
<line x1="52.9" y1="573.9" x2="52.9" y2="576.5" stroke="#848484" stroke-width="1"/>
<text x="52.9" y="585.83" class="tk" text-anchor="middle">0.2</text>
<line x1="96.03" y1="573.9" x2="96.03" y2="576.5" stroke="#848484" stroke-width="1"/>
<text x="96.03" y="585.83" class="tk" text-anchor="middle">0.4</text>
<line x1="139.15" y1="573.9" x2="139.15" y2="576.5" stroke="#848484" stroke-width="1"/>
<text x="139.15" y="585.83" class="tk" text-anchor="middle">0.6</text>
<line x1="182.28" y1="573.9" x2="182.28" y2="576.5" stroke="#848484" stroke-width="1"/>
<text x="182.28" y="585.83" class="tk" text-anchor="middle">0.8</text>
<line x1="225.4" y1="573.9" x2="225.4" y2="576.5" stroke="#848484" stroke-width="1"/>
<text x="225.4" y="585.83" class="tk" text-anchor="middle">1.0</text>
<line x1="40.3" y1="446.6" x2="42.9" y2="446.6" stroke="#848484" stroke-width="1"/>
<text x="39.3" y="449.92" class="tk" text-anchor="end">800</text>
<line x1="40.3" y1="479.2" x2="42.9" y2="479.2" stroke="#848484" stroke-width="1"/>
<text x="39.3" y="482.52" class="tk" text-anchor="end">600</text>
<line x1="40.3" y1="512" x2="42.9" y2="512" stroke="#848484" stroke-width="1"/>
<text x="39.3" y="515.32" class="tk" text-anchor="end">400</text>
<line x1="40.3" y1="544.8" x2="42.9" y2="544.8" stroke="#848484" stroke-width="1"/>
<text x="39.3" y="548.12" class="tk" text-anchor="end">200</text>
<rect x="182.4" y="437.5" width="70.2" height="37.8" rx="2" fill="#fff" fill-opacity="0.85" stroke="#dcdcdc" stroke-width="0.9"/>
<line x1="185" y1="444" x2="202.4" y2="444" stroke="#ff1010" stroke-width="1.6"/>
<circle cx="193.7" cy="444" r="2.15" fill="#ff1010" stroke="#000" stroke-width="0.9"/>
<line x1="185" y1="455.3" x2="202.4" y2="455.3" stroke="#a6bde2" stroke-width="1.1"/>
<polygon points="193.7,453.15 191.65,456.84 195.75,456.84" fill="none" stroke="#1a1aff" stroke-width="1.1" stroke-linejoin="miter"/>
<line x1="185" y1="466.7" x2="202.4" y2="466.7" stroke="#bfbfbf" stroke-width="1.1" stroke-dasharray="4 2"/>
<rect x="191.75" y="464.75" width="3.9" height="3.9" fill="#d9d9d9" stroke="#7c7c7c" stroke-width="0.9"/>
<text x="208.5" y="446.88" class="lg">BitSPIM</text>
<text x="208.5" y="458.18" class="lg">SPIM</text>
<text x="208.5" y="469.58" class="lg">FP_Growth</text>
<text x="93" y="615.4" class="cap cb" textLength="21.9" lengthAdjust="spacingAndGlyphs"><tspan class="pp">(</tspan><tspan class="lt">g</tspan><tspan class="pp">)</tspan></text><text x="117.5" y="615.4" class="cap" textLength="82.9" lengthAdjust="spacingAndGlyphs">OnlineRetail.</text>
<line x1="361.16" y1="433.8" x2="361.16" y2="573.9" stroke="#8a8a8a" stroke-opacity="0.6" stroke-width="1.0"/>
<line x1="416.87" y1="433.8" x2="416.87" y2="573.9" stroke="#8a8a8a" stroke-opacity="0.6" stroke-width="1.0"/>
<line x1="472.59" y1="433.8" x2="472.59" y2="573.9" stroke="#8a8a8a" stroke-opacity="0.6" stroke-width="1.0"/>
<line x1="528.3" y1="433.8" x2="528.3" y2="573.9" stroke="#8a8a8a" stroke-opacity="0.6" stroke-width="1.0"/>
<line x1="323.9" y1="439.8" x2="536.6" y2="439.8" stroke="#8a8a8a" stroke-opacity="0.6" stroke-width="1.0"/>
<line x1="323.9" y1="468.9" x2="536.6" y2="468.9" stroke="#8a8a8a" stroke-opacity="0.6" stroke-width="1.0"/>
<line x1="323.9" y1="497.9" x2="536.6" y2="497.9" stroke="#8a8a8a" stroke-opacity="0.6" stroke-width="1.0"/>
<line x1="323.9" y1="526.9" x2="536.6" y2="526.9" stroke="#8a8a8a" stroke-opacity="0.6" stroke-width="1.0"/>
<line x1="323.9" y1="556.1" x2="536.6" y2="556.1" stroke="#8a8a8a" stroke-opacity="0.6" stroke-width="1.0"/>
<polyline points="333.3,440.2 361.16,501.8 389.01,530.9 416.87,547.2 444.73,555.6 472.59,561.5 500.44,565.3 528.3,567.8" fill="none" stroke="#ff1010" stroke-width="1.6" stroke-linejoin="round"/>
<polyline points="333.3,454.2 361.16,480.9 389.01,490.6 416.87,495.4 444.73,514.2 472.59,519.4 500.44,524 528.3,528.1" fill="none" stroke="#a6bde2" stroke-width="1.3" stroke-linejoin="round"/>
<polyline points="333.3,477.8 361.16,497.4 389.01,504 416.87,505.8 444.73,523.8 472.59,527.7 500.44,531.3 528.3,534.5" fill="none" stroke="#bfbfbf" stroke-width="1.1" stroke-dasharray="3.6 2.4"/>
<circle cx="333.3" cy="440.2" r="2.5" fill="#ff1010" stroke="#000" stroke-width="0.9"/>
<circle cx="361.16" cy="501.8" r="2.5" fill="#ff1010" stroke="#000" stroke-width="0.9"/>
<circle cx="389.01" cy="530.9" r="2.5" fill="#ff1010" stroke="#000" stroke-width="0.9"/>
<circle cx="416.87" cy="547.2" r="2.5" fill="#ff1010" stroke="#000" stroke-width="0.9"/>
<circle cx="444.73" cy="555.6" r="2.5" fill="#ff1010" stroke="#000" stroke-width="0.9"/>
<circle cx="472.59" cy="561.5" r="2.5" fill="#ff1010" stroke="#000" stroke-width="0.9"/>
<circle cx="500.44" cy="565.3" r="2.5" fill="#ff1010" stroke="#000" stroke-width="0.9"/>
<circle cx="528.3" cy="567.8" r="2.5" fill="#ff1010" stroke="#000" stroke-width="0.9"/>
<polygon points="333.3,451.52 330.75,456.11 335.85,456.11" fill="none" stroke="#1a1aff" stroke-width="1.1" stroke-linejoin="miter"/>
<polygon points="361.16,478.22 358.61,482.81 363.71,482.81" fill="none" stroke="#1a1aff" stroke-width="1.1" stroke-linejoin="miter"/>
<polygon points="389.01,487.92 386.46,492.51 391.56,492.51" fill="none" stroke="#1a1aff" stroke-width="1.1" stroke-linejoin="miter"/>
<polygon points="416.87,492.72 414.32,497.31 419.42,497.31" fill="none" stroke="#1a1aff" stroke-width="1.1" stroke-linejoin="miter"/>
<polygon points="444.73,511.52 442.18,516.11 447.28,516.11" fill="none" stroke="#1a1aff" stroke-width="1.1" stroke-linejoin="miter"/>
<polygon points="472.59,516.72 470.04,521.31 475.14,521.31" fill="none" stroke="#1a1aff" stroke-width="1.1" stroke-linejoin="miter"/>
<polygon points="500.44,521.32 497.89,525.91 502.99,525.91" fill="none" stroke="#1a1aff" stroke-width="1.1" stroke-linejoin="miter"/>
<polygon points="528.3,525.42 525.75,530.01 530.85,530.01" fill="none" stroke="#1a1aff" stroke-width="1.1" stroke-linejoin="miter"/>
<rect x="331" y="475.5" width="4.6" height="4.6" fill="#d9d9d9" stroke="#7c7c7c" stroke-width="0.9"/>
<rect x="358.86" y="495.1" width="4.6" height="4.6" fill="#d9d9d9" stroke="#7c7c7c" stroke-width="0.9"/>
<rect x="386.71" y="501.7" width="4.6" height="4.6" fill="#d9d9d9" stroke="#7c7c7c" stroke-width="0.9"/>
<rect x="414.57" y="503.5" width="4.6" height="4.6" fill="#d9d9d9" stroke="#7c7c7c" stroke-width="0.9"/>
<rect x="442.43" y="521.5" width="4.6" height="4.6" fill="#d9d9d9" stroke="#7c7c7c" stroke-width="0.9"/>
<rect x="470.29" y="525.4" width="4.6" height="4.6" fill="#d9d9d9" stroke="#7c7c7c" stroke-width="0.9"/>
<rect x="498.14" y="529" width="4.6" height="4.6" fill="#d9d9d9" stroke="#7c7c7c" stroke-width="0.9"/>
<rect x="526" y="532.2" width="4.6" height="4.6" fill="#d9d9d9" stroke="#7c7c7c" stroke-width="0.9"/>
<line x1="344.44" y1="433.8" x2="344.44" y2="573.9" stroke="#000" stroke-width="1.2" stroke-dasharray="2.8 1.6"/>
<circle cx="344.44" cy="464.4" r="2.05" fill="#000"/>
<text x="344.2" y="462.9" class="ann">(0.27, 6,192)</text>
<rect x="323.9" y="433.8" width="212.7" height="140.1" fill="none" stroke="#848484" stroke-width="1.75"/>
<line x1="361.16" y1="573.9" x2="361.16" y2="576.5" stroke="#848484" stroke-width="1"/>
<text x="361.16" y="585.83" class="tk" text-anchor="middle">0.3</text>
<line x1="416.87" y1="573.9" x2="416.87" y2="576.5" stroke="#848484" stroke-width="1"/>
<text x="416.87" y="585.83" class="tk" text-anchor="middle">0.4</text>
<line x1="472.59" y1="573.9" x2="472.59" y2="576.5" stroke="#848484" stroke-width="1"/>
<text x="472.59" y="585.83" class="tk" text-anchor="middle">0.5</text>
<line x1="528.3" y1="573.9" x2="528.3" y2="576.5" stroke="#848484" stroke-width="1"/>
<text x="528.3" y="585.83" class="tk" text-anchor="middle">0.6</text>
<line x1="321.3" y1="439.8" x2="323.9" y2="439.8" stroke="#848484" stroke-width="1"/>
<text x="320.3" y="443.12" class="tk" text-anchor="end">7,500</text>
<line x1="321.3" y1="468.9" x2="323.9" y2="468.9" stroke="#848484" stroke-width="1"/>
<text x="320.3" y="472.22" class="tk" text-anchor="end">6,000</text>
<line x1="321.3" y1="497.9" x2="323.9" y2="497.9" stroke="#848484" stroke-width="1"/>
<text x="320.3" y="501.22" class="tk" text-anchor="end">4,500</text>
<line x1="321.3" y1="526.9" x2="323.9" y2="526.9" stroke="#848484" stroke-width="1"/>
<text x="320.3" y="530.22" class="tk" text-anchor="end">3,000</text>
<line x1="321.3" y1="556.1" x2="323.9" y2="556.1" stroke="#848484" stroke-width="1"/>
<text x="320.3" y="559.42" class="tk" text-anchor="end">1,500</text>
<rect x="462.4" y="437.5" width="70.2" height="37.8" rx="2" fill="#fff" fill-opacity="0.85" stroke="#dcdcdc" stroke-width="0.9"/>
<line x1="465" y1="444" x2="482.4" y2="444" stroke="#ff1010" stroke-width="1.6"/>
<circle cx="473.7" cy="444" r="2.15" fill="#ff1010" stroke="#000" stroke-width="0.9"/>
<line x1="465" y1="455.3" x2="482.4" y2="455.3" stroke="#a6bde2" stroke-width="1.1"/>
<polygon points="473.7,453.15 471.65,456.84 475.75,456.84" fill="none" stroke="#1a1aff" stroke-width="1.1" stroke-linejoin="miter"/>
<line x1="465" y1="466.7" x2="482.4" y2="466.7" stroke="#bfbfbf" stroke-width="1.1" stroke-dasharray="4 2"/>
<rect x="471.75" y="464.75" width="3.9" height="3.9" fill="#d9d9d9" stroke="#7c7c7c" stroke-width="0.9"/>
<text x="488.5" y="446.88" class="lg">BitSPIM</text>
<text x="488.5" y="458.18" class="lg">SPIM</text>
<text x="488.5" y="469.58" class="lg">FP_Growth</text>
<text x="387.3" y="615.4" class="cap cb" textLength="22.3" lengthAdjust="spacingAndGlyphs"><tspan class="pp">(</tspan><tspan class="lt">h</tspan><tspan class="pp">)</tspan></text><text x="412.8" y="615.4" class="cap" textLength="54.7" lengthAdjust="spacingAndGlyphs">Kosarak.</text>
<line x1="74.36" y1="645.1" x2="74.36" y2="785.9" stroke="#8a8a8a" stroke-opacity="0.6" stroke-width="1.0"/>
<line x1="117.67" y1="645.1" x2="117.67" y2="785.9" stroke="#8a8a8a" stroke-opacity="0.6" stroke-width="1.0"/>
<line x1="160.98" y1="645.1" x2="160.98" y2="785.9" stroke="#8a8a8a" stroke-opacity="0.6" stroke-width="1.0"/>
<line x1="204.29" y1="645.1" x2="204.29" y2="785.9" stroke="#8a8a8a" stroke-opacity="0.6" stroke-width="1.0"/>
<line x1="247.6" y1="645.1" x2="247.6" y2="785.9" stroke="#8a8a8a" stroke-opacity="0.6" stroke-width="1.0"/>
<line x1="42.9" y1="669.3" x2="256.6" y2="669.3" stroke="#8a8a8a" stroke-opacity="0.6" stroke-width="1.0"/>
<line x1="42.9" y1="705.3" x2="256.6" y2="705.3" stroke="#8a8a8a" stroke-opacity="0.6" stroke-width="1.0"/>
<line x1="42.9" y1="741.3" x2="256.6" y2="741.3" stroke="#8a8a8a" stroke-opacity="0.6" stroke-width="1.0"/>
<line x1="42.9" y1="776.6" x2="256.6" y2="776.6" stroke="#8a8a8a" stroke-opacity="0.6" stroke-width="1.0"/>
<polyline points="52.7,652 74.36,701.1 96.01,704.9 117.67,727 139.32,729.3 160.98,743.9 182.63,754.8 204.29,762.2 225.94,763 247.6,768.1" fill="none" stroke="#ff1010" stroke-width="1.6" stroke-linejoin="round"/>
<polyline points="52.7,662.4 74.36,704.1 96.01,706.2 117.67,720.2 139.32,726 160.98,741.4 182.63,751 204.29,757.9 225.94,759.7 247.6,761.7" fill="none" stroke="#a6bde2" stroke-width="1.3" stroke-linejoin="round"/>
<polyline points="52.7,759.2 74.36,762.2 96.01,763.8 117.67,770.9 139.32,770.6 160.98,773.9 182.63,776.5 204.29,778.3 225.94,779.5 247.6,780" fill="none" stroke="#bfbfbf" stroke-width="1.1" stroke-dasharray="3.6 2.4"/>
<circle cx="52.7" cy="652" r="2.5" fill="#ff1010" stroke="#000" stroke-width="0.9"/>
<circle cx="74.36" cy="701.1" r="2.5" fill="#ff1010" stroke="#000" stroke-width="0.9"/>
<circle cx="96.01" cy="704.9" r="2.5" fill="#ff1010" stroke="#000" stroke-width="0.9"/>
<circle cx="117.67" cy="727" r="2.5" fill="#ff1010" stroke="#000" stroke-width="0.9"/>
<circle cx="139.32" cy="729.3" r="2.5" fill="#ff1010" stroke="#000" stroke-width="0.9"/>
<circle cx="160.98" cy="743.9" r="2.5" fill="#ff1010" stroke="#000" stroke-width="0.9"/>
<circle cx="182.63" cy="754.8" r="2.5" fill="#ff1010" stroke="#000" stroke-width="0.9"/>
<circle cx="204.29" cy="762.2" r="2.5" fill="#ff1010" stroke="#000" stroke-width="0.9"/>
<circle cx="225.94" cy="763" r="2.5" fill="#ff1010" stroke="#000" stroke-width="0.9"/>
<circle cx="247.6" cy="768.1" r="2.5" fill="#ff1010" stroke="#000" stroke-width="0.9"/>
<polygon points="52.7,659.72 50.15,664.31 55.25,664.31" fill="none" stroke="#1a1aff" stroke-width="1.1" stroke-linejoin="miter"/>
<polygon points="74.36,701.42 71.81,706.01 76.91,706.01" fill="none" stroke="#1a1aff" stroke-width="1.1" stroke-linejoin="miter"/>
<polygon points="96.01,703.52 93.46,708.11 98.56,708.11" fill="none" stroke="#1a1aff" stroke-width="1.1" stroke-linejoin="miter"/>
<polygon points="117.67,717.52 115.12,722.11 120.22,722.11" fill="none" stroke="#1a1aff" stroke-width="1.1" stroke-linejoin="miter"/>
<polygon points="139.32,723.32 136.77,727.91 141.87,727.91" fill="none" stroke="#1a1aff" stroke-width="1.1" stroke-linejoin="miter"/>
<polygon points="160.98,738.72 158.43,743.31 163.53,743.31" fill="none" stroke="#1a1aff" stroke-width="1.1" stroke-linejoin="miter"/>
<polygon points="182.63,748.32 180.08,752.91 185.18,752.91" fill="none" stroke="#1a1aff" stroke-width="1.1" stroke-linejoin="miter"/>
<polygon points="204.29,755.22 201.74,759.81 206.84,759.81" fill="none" stroke="#1a1aff" stroke-width="1.1" stroke-linejoin="miter"/>
<polygon points="225.94,757.02 223.39,761.61 228.49,761.61" fill="none" stroke="#1a1aff" stroke-width="1.1" stroke-linejoin="miter"/>
<polygon points="247.6,759.02 245.05,763.61 250.15,763.61" fill="none" stroke="#1a1aff" stroke-width="1.1" stroke-linejoin="miter"/>
<rect x="50.4" y="756.9" width="4.6" height="4.6" fill="#d9d9d9" stroke="#7c7c7c" stroke-width="0.9"/>
<rect x="72.06" y="759.9" width="4.6" height="4.6" fill="#d9d9d9" stroke="#7c7c7c" stroke-width="0.9"/>
<rect x="93.71" y="761.5" width="4.6" height="4.6" fill="#d9d9d9" stroke="#7c7c7c" stroke-width="0.9"/>
<rect x="115.37" y="768.6" width="4.6" height="4.6" fill="#d9d9d9" stroke="#7c7c7c" stroke-width="0.9"/>
<rect x="137.02" y="768.3" width="4.6" height="4.6" fill="#d9d9d9" stroke="#7c7c7c" stroke-width="0.9"/>
<rect x="158.68" y="771.6" width="4.6" height="4.6" fill="#d9d9d9" stroke="#7c7c7c" stroke-width="0.9"/>
<rect x="180.33" y="774.2" width="4.6" height="4.6" fill="#d9d9d9" stroke="#7c7c7c" stroke-width="0.9"/>
<rect x="201.99" y="776" width="4.6" height="4.6" fill="#d9d9d9" stroke="#7c7c7c" stroke-width="0.9"/>
<rect x="223.64" y="777.2" width="4.6" height="4.6" fill="#d9d9d9" stroke="#7c7c7c" stroke-width="0.9"/>
<rect x="245.3" y="777.7" width="4.6" height="4.6" fill="#d9d9d9" stroke="#7c7c7c" stroke-width="0.9"/>
<line x1="98.3" y1="645.1" x2="98.3" y2="785.9" stroke="#000" stroke-width="1.2" stroke-dasharray="2.8 1.6"/>
<circle cx="97" cy="706.4" r="2.05" fill="#000"/>
<text x="97" y="706" class="ann">(0.065, 293)</text>
<rect x="42.9" y="645.1" width="213.7" height="140.8" fill="none" stroke="#848484" stroke-width="1.75"/>
<line x1="74.36" y1="785.9" x2="74.36" y2="788.5" stroke="#848484" stroke-width="1"/>
<text x="74.36" y="797.83" class="tk" text-anchor="middle">0.064</text>
<line x1="117.67" y1="785.9" x2="117.67" y2="788.5" stroke="#848484" stroke-width="1"/>
<text x="117.67" y="797.83" class="tk" text-anchor="middle">0.066</text>
<line x1="160.98" y1="785.9" x2="160.98" y2="788.5" stroke="#848484" stroke-width="1"/>
<text x="160.98" y="797.83" class="tk" text-anchor="middle">0.068</text>
<line x1="204.29" y1="785.9" x2="204.29" y2="788.5" stroke="#848484" stroke-width="1"/>
<text x="204.29" y="797.83" class="tk" text-anchor="middle">0.070</text>
<line x1="247.6" y1="785.9" x2="247.6" y2="788.5" stroke="#848484" stroke-width="1"/>
<text x="247.6" y="797.83" class="tk" text-anchor="middle">0.072</text>
<line x1="40.3" y1="669.3" x2="42.9" y2="669.3" stroke="#848484" stroke-width="1"/>
<text x="39.3" y="672.62" class="tk" text-anchor="end">400</text>
<line x1="40.3" y1="705.3" x2="42.9" y2="705.3" stroke="#848484" stroke-width="1"/>
<text x="39.3" y="708.62" class="tk" text-anchor="end">300</text>
<line x1="40.3" y1="741.3" x2="42.9" y2="741.3" stroke="#848484" stroke-width="1"/>
<text x="39.3" y="744.62" class="tk" text-anchor="end">200</text>
<line x1="40.3" y1="776.6" x2="42.9" y2="776.6" stroke="#848484" stroke-width="1"/>
<text x="39.3" y="779.92" class="tk" text-anchor="end">100</text>
<rect x="182.4" y="648.8" width="70.2" height="37.8" rx="2" fill="#fff" fill-opacity="0.85" stroke="#dcdcdc" stroke-width="0.9"/>
<line x1="185" y1="655.3" x2="202.4" y2="655.3" stroke="#ff1010" stroke-width="1.6"/>
<circle cx="193.7" cy="655.3" r="2.15" fill="#ff1010" stroke="#000" stroke-width="0.9"/>
<line x1="185" y1="666.6" x2="202.4" y2="666.6" stroke="#a6bde2" stroke-width="1.1"/>
<polygon points="193.7,664.45 191.65,668.14 195.75,668.14" fill="none" stroke="#1a1aff" stroke-width="1.1" stroke-linejoin="miter"/>
<line x1="185" y1="678" x2="202.4" y2="678" stroke="#bfbfbf" stroke-width="1.1" stroke-dasharray="4 2"/>
<rect x="191.75" y="676.05" width="3.9" height="3.9" fill="#d9d9d9" stroke="#7c7c7c" stroke-width="0.9"/>
<text x="208.5" y="658.18" class="lg">BitSPIM</text>
<text x="208.5" y="669.48" class="lg">SPIM</text>
<text x="208.5" y="680.88" class="lg">FP_Growth</text>
<text x="83.2" y="827.5" class="cap cb" textLength="16.5" lengthAdjust="spacingAndGlyphs"><tspan class="pp">(</tspan><tspan class="lt">i</tspan><tspan class="pp">)</tspan></text><text x="103.5" y="827.5" class="cap" textLength="104.7" lengthAdjust="spacingAndGlyphs">BMS-Webview-1.</text>
<line x1="352.77" y1="645.1" x2="352.77" y2="785.9" stroke="#8a8a8a" stroke-opacity="0.6" stroke-width="1.0"/>
<line x1="391.71" y1="645.1" x2="391.71" y2="785.9" stroke="#8a8a8a" stroke-opacity="0.6" stroke-width="1.0"/>
<line x1="430.65" y1="645.1" x2="430.65" y2="785.9" stroke="#8a8a8a" stroke-opacity="0.6" stroke-width="1.0"/>
<line x1="469.59" y1="645.1" x2="469.59" y2="785.9" stroke="#8a8a8a" stroke-opacity="0.6" stroke-width="1.0"/>
<line x1="508.53" y1="645.1" x2="508.53" y2="785.9" stroke="#8a8a8a" stroke-opacity="0.6" stroke-width="1.0"/>
<line x1="323.4" y1="667.5" x2="537.3" y2="667.5" stroke="#8a8a8a" stroke-opacity="0.6" stroke-width="1.0"/>
<line x1="323.4" y1="691.3" x2="537.3" y2="691.3" stroke="#8a8a8a" stroke-opacity="0.6" stroke-width="1.0"/>
<line x1="323.4" y1="715.1" x2="537.3" y2="715.1" stroke="#8a8a8a" stroke-opacity="0.6" stroke-width="1.0"/>
<line x1="323.4" y1="738.9" x2="537.3" y2="738.9" stroke="#8a8a8a" stroke-opacity="0.6" stroke-width="1.0"/>
<line x1="323.4" y1="762.6" x2="537.3" y2="762.6" stroke="#8a8a8a" stroke-opacity="0.6" stroke-width="1.0"/>
<polyline points="333.3,652 352.77,672.3 372.24,695.2 391.71,715.8 411.18,729 430.65,739.3 450.12,749.5 469.59,758.4 489.06,767.3 508.53,773.7 528,780" fill="none" stroke="#ff1010" stroke-width="1.6" stroke-linejoin="round"/>
<polyline points="333.3,694 352.77,706.2 372.24,710 391.71,718.1 411.18,723.5 430.65,728.3 450.12,732.1 469.59,736.2 489.06,740.1 508.53,743.1 528,746.5" fill="none" stroke="#a6bde2" stroke-width="1.3" stroke-linejoin="round"/>
<polyline points="333.3,721.7 352.77,730.1 372.24,731.9 391.71,737.2 411.18,741.3 430.65,744.7 450.12,747 469.59,750.3 489.06,752.3 508.53,754.6 528,757.1" fill="none" stroke="#bfbfbf" stroke-width="1.1" stroke-dasharray="3.6 2.4"/>
<circle cx="333.3" cy="652" r="2.5" fill="#ff1010" stroke="#000" stroke-width="0.9"/>
<circle cx="352.77" cy="672.3" r="2.5" fill="#ff1010" stroke="#000" stroke-width="0.9"/>
<circle cx="372.24" cy="695.2" r="2.5" fill="#ff1010" stroke="#000" stroke-width="0.9"/>
<circle cx="391.71" cy="715.8" r="2.5" fill="#ff1010" stroke="#000" stroke-width="0.9"/>
<circle cx="411.18" cy="729" r="2.5" fill="#ff1010" stroke="#000" stroke-width="0.9"/>
<circle cx="430.65" cy="739.3" r="2.5" fill="#ff1010" stroke="#000" stroke-width="0.9"/>
<circle cx="450.12" cy="749.5" r="2.5" fill="#ff1010" stroke="#000" stroke-width="0.9"/>
<circle cx="469.59" cy="758.4" r="2.5" fill="#ff1010" stroke="#000" stroke-width="0.9"/>
<circle cx="489.06" cy="767.3" r="2.5" fill="#ff1010" stroke="#000" stroke-width="0.9"/>
<circle cx="508.53" cy="773.7" r="2.5" fill="#ff1010" stroke="#000" stroke-width="0.9"/>
<circle cx="528" cy="780" r="2.5" fill="#ff1010" stroke="#000" stroke-width="0.9"/>
<polygon points="333.3,691.32 330.75,695.91 335.85,695.91" fill="none" stroke="#1a1aff" stroke-width="1.1" stroke-linejoin="miter"/>
<polygon points="352.77,703.52 350.22,708.11 355.32,708.11" fill="none" stroke="#1a1aff" stroke-width="1.1" stroke-linejoin="miter"/>
<polygon points="372.24,707.32 369.69,711.91 374.79,711.91" fill="none" stroke="#1a1aff" stroke-width="1.1" stroke-linejoin="miter"/>
<polygon points="391.71,715.42 389.16,720.01 394.26,720.01" fill="none" stroke="#1a1aff" stroke-width="1.1" stroke-linejoin="miter"/>
<polygon points="411.18,720.82 408.63,725.41 413.73,725.41" fill="none" stroke="#1a1aff" stroke-width="1.1" stroke-linejoin="miter"/>
<polygon points="430.65,725.62 428.1,730.21 433.2,730.21" fill="none" stroke="#1a1aff" stroke-width="1.1" stroke-linejoin="miter"/>
<polygon points="450.12,729.42 447.57,734.01 452.67,734.01" fill="none" stroke="#1a1aff" stroke-width="1.1" stroke-linejoin="miter"/>
<polygon points="469.59,733.52 467.04,738.11 472.14,738.11" fill="none" stroke="#1a1aff" stroke-width="1.1" stroke-linejoin="miter"/>
<polygon points="489.06,737.42 486.51,742.01 491.61,742.01" fill="none" stroke="#1a1aff" stroke-width="1.1" stroke-linejoin="miter"/>
<polygon points="508.53,740.42 505.98,745.01 511.08,745.01" fill="none" stroke="#1a1aff" stroke-width="1.1" stroke-linejoin="miter"/>
<polygon points="528,743.82 525.45,748.41 530.55,748.41" fill="none" stroke="#1a1aff" stroke-width="1.1" stroke-linejoin="miter"/>
<rect x="331" y="719.4" width="4.6" height="4.6" fill="#d9d9d9" stroke="#7c7c7c" stroke-width="0.9"/>
<rect x="350.47" y="727.8" width="4.6" height="4.6" fill="#d9d9d9" stroke="#7c7c7c" stroke-width="0.9"/>
<rect x="369.94" y="729.6" width="4.6" height="4.6" fill="#d9d9d9" stroke="#7c7c7c" stroke-width="0.9"/>
<rect x="389.41" y="734.9" width="4.6" height="4.6" fill="#d9d9d9" stroke="#7c7c7c" stroke-width="0.9"/>
<rect x="408.88" y="739" width="4.6" height="4.6" fill="#d9d9d9" stroke="#7c7c7c" stroke-width="0.9"/>
<rect x="428.35" y="742.4" width="4.6" height="4.6" fill="#d9d9d9" stroke="#7c7c7c" stroke-width="0.9"/>
<rect x="447.82" y="744.7" width="4.6" height="4.6" fill="#d9d9d9" stroke="#7c7c7c" stroke-width="0.9"/>
<rect x="467.29" y="748" width="4.6" height="4.6" fill="#d9d9d9" stroke="#7c7c7c" stroke-width="0.9"/>
<rect x="486.76" y="750" width="4.6" height="4.6" fill="#d9d9d9" stroke="#7c7c7c" stroke-width="0.9"/>
<rect x="506.23" y="752.3" width="4.6" height="4.6" fill="#d9d9d9" stroke="#7c7c7c" stroke-width="0.9"/>
<rect x="525.7" y="754.8" width="4.6" height="4.6" fill="#d9d9d9" stroke="#7c7c7c" stroke-width="0.9"/>
<line x1="395.6" y1="645.1" x2="395.6" y2="785.9" stroke="#000" stroke-width="1.2" stroke-dasharray="2.8 1.6"/>
<circle cx="395.6" cy="718.9" r="2.05" fill="#000"/>
<text x="395.6" y="717.3" class="ann">(0.182, 242)</text>
<rect x="323.4" y="645.1" width="213.9" height="140.8" fill="none" stroke="#848484" stroke-width="1.75"/>
<line x1="352.77" y1="785.9" x2="352.77" y2="788.5" stroke="#848484" stroke-width="1"/>
<text x="352.77" y="797.83" class="tk" text-anchor="middle">0.16</text>
<line x1="391.71" y1="785.9" x2="391.71" y2="788.5" stroke="#848484" stroke-width="1"/>
<text x="391.71" y="797.83" class="tk" text-anchor="middle">0.18</text>
<line x1="430.65" y1="785.9" x2="430.65" y2="788.5" stroke="#848484" stroke-width="1"/>
<text x="430.65" y="797.83" class="tk" text-anchor="middle">0.20</text>
<line x1="469.59" y1="785.9" x2="469.59" y2="788.5" stroke="#848484" stroke-width="1"/>
<text x="469.59" y="797.83" class="tk" text-anchor="middle">0.22</text>
<line x1="508.53" y1="785.9" x2="508.53" y2="788.5" stroke="#848484" stroke-width="1"/>
<text x="508.53" y="797.83" class="tk" text-anchor="middle">0.24</text>
<line x1="320.8" y1="667.5" x2="323.4" y2="667.5" stroke="#848484" stroke-width="1"/>
<text x="319.8" y="670.82" class="tk" text-anchor="end">350</text>
<line x1="320.8" y1="691.3" x2="323.4" y2="691.3" stroke="#848484" stroke-width="1"/>
<text x="319.8" y="694.62" class="tk" text-anchor="end">300</text>
<line x1="320.8" y1="715.1" x2="323.4" y2="715.1" stroke="#848484" stroke-width="1"/>
<text x="319.8" y="718.42" class="tk" text-anchor="end">250</text>
<line x1="320.8" y1="738.9" x2="323.4" y2="738.9" stroke="#848484" stroke-width="1"/>
<text x="319.8" y="742.22" class="tk" text-anchor="end">200</text>
<line x1="320.8" y1="762.6" x2="323.4" y2="762.6" stroke="#848484" stroke-width="1"/>
<text x="319.8" y="765.92" class="tk" text-anchor="end">150</text>
<rect x="463.1" y="648.8" width="70.2" height="37.8" rx="2" fill="#fff" fill-opacity="0.85" stroke="#dcdcdc" stroke-width="0.9"/>
<line x1="465.7" y1="655.3" x2="483.1" y2="655.3" stroke="#ff1010" stroke-width="1.6"/>
<circle cx="474.4" cy="655.3" r="2.15" fill="#ff1010" stroke="#000" stroke-width="0.9"/>
<line x1="465.7" y1="666.6" x2="483.1" y2="666.6" stroke="#a6bde2" stroke-width="1.1"/>
<polygon points="474.4,664.45 472.35,668.14 476.45,668.14" fill="none" stroke="#1a1aff" stroke-width="1.1" stroke-linejoin="miter"/>
<line x1="465.7" y1="678" x2="483.1" y2="678" stroke="#bfbfbf" stroke-width="1.1" stroke-dasharray="4 2"/>
<rect x="472.45" y="676.05" width="3.9" height="3.9" fill="#d9d9d9" stroke="#7c7c7c" stroke-width="0.9"/>
<text x="489.2" y="658.18" class="lg">BitSPIM</text>
<text x="489.2" y="669.48" class="lg">SPIM</text>
<text x="489.2" y="680.88" class="lg">FP_Growth</text>
<text x="363.4" y="827.5" class="cap cb" textLength="17.2" lengthAdjust="spacingAndGlyphs"><tspan class="pp">(</tspan><tspan class="lt">j</tspan><tspan class="pp">)</tspan></text><text x="384.7" y="827.5" class="cap" textLength="106.1" lengthAdjust="spacingAndGlyphs">BMS-Webview-2.</text>
</svg>
</body></html>
